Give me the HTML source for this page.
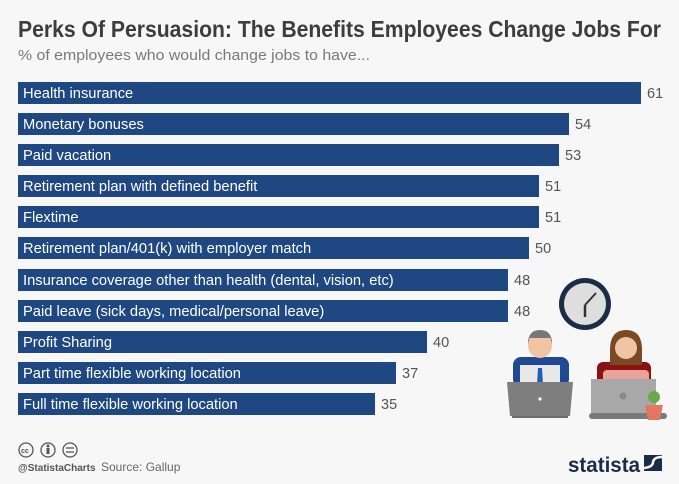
<!DOCTYPE html>
<html><head><meta charset="utf-8"><style>
body{margin:0;background:#f7f7f7;}
svg{display:block;font-family:"Liberation Sans",sans-serif;}
</style></head><body>
<svg width="679" height="484" viewBox="0 0 679 484">
<rect width="679" height="484" fill="#f7f7f7"/>
<text x="18" y="37" font-size="23" font-weight="bold" fill="#3d3d3d" textLength="643" lengthAdjust="spacingAndGlyphs">Perks Of Persuasion: The Benefits Employees Change Jobs For</text>
<text x="18" y="60" font-size="14.5" fill="#7a7a7a" textLength="352" lengthAdjust="spacingAndGlyphs">% of employees who would change jobs to have...</text>
<g fill="#1f4883">
<rect x="18" y="82" width="623" height="22"/>
<rect x="18" y="113" width="551" height="22"/>
<rect x="18" y="144" width="541" height="22"/>
<rect x="18" y="175" width="521" height="22"/>
<rect x="18" y="206" width="521" height="22"/>
<rect x="18" y="237" width="511" height="22"/>
<rect x="18" y="269" width="490" height="22"/>
<rect x="18" y="300" width="490" height="22"/>
<rect x="18" y="331" width="409" height="22"/>
<rect x="18" y="362" width="378" height="22"/>
<rect x="18" y="393" width="357" height="22"/>
</g>
<g fill="#fff" font-size="14.7">
<text x="23" y="98">Health insurance</text>
<text x="23" y="129">Monetary bonuses</text>
<text x="23" y="160">Paid vacation</text>
<text x="23" y="191">Retirement plan with defined benefit</text>
<text x="23" y="222">Flextime</text>
<text x="23" y="253">Retirement plan/401(k) with employer match</text>
<text x="23" y="285">Insurance coverage other than health (dental, vision, etc)</text>
<text x="23" y="316">Paid leave (sick days, medical/personal leave)</text>
<text x="23" y="347">Profit Sharing</text>
<text x="23" y="378">Part time flexible working location</text>
<text x="23" y="409">Full time flexible working location</text>
</g>
<g fill="#555" font-size="14.5">
<text x="647" y="98">61</text>
<text x="575" y="129">54</text>
<text x="565" y="160">53</text>
<text x="545" y="191">51</text>
<text x="545" y="222">51</text>
<text x="535" y="253">50</text>
<text x="514" y="285">48</text>
<text x="514" y="316">48</text>
<text x="433" y="347">40</text>
<text x="402" y="378">37</text>
<text x="381" y="409">35</text>
</g>
<!-- clock -->
<circle cx="585" cy="304" r="26" fill="#1b2c47"/>
<circle cx="585" cy="304" r="21" fill="#dedede"/>
<line x1="585" y1="305" x2="585" y2="317" stroke="#333" stroke-width="2.5"/>
<line x1="585" y1="305" x2="596" y2="293" stroke="#333" stroke-width="2"/>
<!-- man -->
<rect x="513" y="357" width="56" height="30" rx="8" fill="#1f4a93"/>
<rect x="520" y="365" width="40" height="24" fill="#e8e8e8"/>
<circle cx="540" cy="346" r="12" fill="#f1c4a4"/>
<path d="M528 344 q0 -14 12 -14 q12 0 12 14 l-2 -6 h-20z" fill="#777"/>
<polygon points="538,368 542,368 543,385 537,385" fill="#1f5fb8"/>
<polygon points="507,382 573,382 570,416 510,416" fill="#7e7e7e"/>
<rect x="512" y="416" width="56" height="2" fill="#6a6a6a"/>
<circle cx="540" cy="399" r="1.6" fill="#fff"/>
<!-- woman -->
<rect x="597" y="362" width="54" height="28" rx="6" fill="#8b1212"/>
<path d="M610 350 q0 -20 16 -20 q16 0 16 20 v15 h-32z" fill="#7a4a26"/>
<circle cx="626" cy="348" r="11" fill="#f1c4a4"/>
<rect x="603" y="370" width="46" height="20" rx="4" fill="#eaa39a"/>
<rect x="591" y="379" width="65" height="35" fill="#a8a8a8"/>
<circle cx="623" cy="396" r="3.5" fill="#888"/>
<rect x="589" y="413" width="78" height="6" rx="3" fill="#7a7a7a"/>
<circle cx="654" cy="397" r="6" fill="#6aa84f"/>
<polygon points="645,405 663,405 660,420 648,420" fill="#e07862"/>
<!-- footer -->
<g fill="none" stroke="#555" stroke-width="1.3">
<circle cx="26" cy="450" r="7"/><circle cx="48" cy="450" r="7"/><circle cx="70" cy="450" r="7"/>
</g>
<text x="21" y="453" font-size="7" fill="#555" font-weight="bold">cc</text>
<line x1="66" y1="448" x2="74" y2="448" stroke="#555" stroke-width="1.3"/>
<line x1="66" y1="452" x2="74" y2="452" stroke="#555" stroke-width="1.3"/>
<circle cx="48" cy="446" r="1.5" fill="#555"/><rect x="46.5" y="448" width="3" height="6" fill="#555"/>
<text x="18" y="471" font-size="10" fill="#555" font-weight="bold">@StatistaCharts</text>
<text x="101" y="471" font-size="12" fill="#666">Source: Gallup</text>
<text x="568" y="472" font-size="21" font-weight="bold" fill="#1b2c47" textLength="72" lengthAdjust="spacingAndGlyphs">statista</text>
<rect x="644" y="455" width="18" height="16" fill="#1b2c47"/>
<path d="M644 468 q9 -1 9 -6 q1 -5 9 -5" stroke="#f7f7f7" stroke-width="2.5" fill="none"/>
</svg>
</body></html>
